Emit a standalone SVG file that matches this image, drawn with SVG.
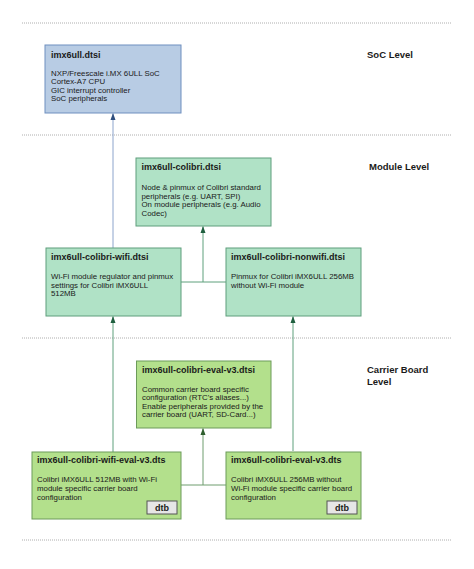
<svg xmlns="http://www.w3.org/2000/svg" width="474" height="569" viewBox="0 0 474 569">
<style>
text{font-family:"Liberation Sans",Arial,sans-serif;fill:#1a1a1a}
.t{font-size:9px;font-weight:bold}
.b{font-size:7.85px}
.lvl{font-size:9.5px;font-weight:bold}
.dtbt{font-size:9px;font-weight:bold}
.soc{fill:#b8cce4;stroke:#6f8fbf;stroke-width:1}
.mod{fill:#b0e2c6;stroke:#5f9e7c;stroke-width:1}
.car{fill:#b3e08c;stroke:#6c9b5a;stroke-width:1}
.dtb{fill:#e6e6e6;stroke:#555;stroke-width:1}
.sep{stroke:#9a9a9a;stroke-width:0.8;stroke-dasharray:1,1;fill:none}
.cb{stroke:#8ca4cc;stroke-width:1;fill:none}
.cg{stroke:#5fa07c;stroke-width:1;fill:none}
.cc{stroke:#6f9d6f;stroke-width:1;fill:none}
</style>
<defs>
<marker id="ab" markerUnits="userSpaceOnUse" markerWidth="7" markerHeight="6" viewBox="0 0 7 6" refX="6.5" refY="3" orient="auto"><path d="M0,0.5 L7,3 L0,5.5 Z" fill="#2f4f7f"/></marker>
<marker id="ag" markerUnits="userSpaceOnUse" markerWidth="7" markerHeight="6" viewBox="0 0 7 6" refX="6.5" refY="3" orient="auto"><path d="M0,0.5 L7,3 L0,5.5 Z" fill="#1f5f3f"/></marker>
<marker id="ac" markerUnits="userSpaceOnUse" markerWidth="7" markerHeight="6" viewBox="0 0 7 6" refX="6.5" refY="3" orient="auto"><path d="M0,0.5 L7,3 L0,5.5 Z" fill="#2f5f2f"/></marker>
</defs>
<rect width="474" height="569" fill="#ffffff"/>
<g id="separators">
<line class="sep" x1="22" y1="23" x2="452" y2="23"/>
<line class="sep" x1="22" y1="135" x2="452" y2="135"/>
<line class="sep" x1="22" y1="338" x2="452" y2="338"/>
<line class="sep" x1="22" y1="540" x2="452" y2="540"/>
</g>
<g id="levels">
<text class="lvl" x="367" y="58">SoC Level</text>
<text class="lvl" x="369" y="170">Module Level</text>
<text class="lvl" x="367" y="373">Carrier Board</text>
<text class="lvl" x="367" y="385">Level</text>
</g>
<g id="connectors">
<line class="cb" x1="113" y1="248" x2="113" y2="113.5" marker-end="url(#ab)"/>
<line class="cg" x1="181" y1="282" x2="226" y2="282"/>
<line class="cg" x1="203" y1="282" x2="203" y2="226.5" marker-end="url(#ag)"/>
<line class="cg" x1="113" y1="452" x2="113" y2="316.5" marker-end="url(#ag)"/>
<line class="cg" x1="293" y1="451" x2="293" y2="316.5" marker-end="url(#ag)"/>
<line class="cc" x1="181" y1="485" x2="226" y2="485"/>
<line class="cc" x1="203" y1="485" x2="203" y2="428.5" marker-end="url(#ac)"/>
</g>
<g id="imx6ull-dtsi">
<rect class="soc" x="45" y="45" width="136" height="68"/>
<text class="t" x="51" y="58">imx6ull.dtsi</text>
<text class="b" x="51" y="76">NXP/Freescale i.MX 6ULL SoC</text>
<text class="b" x="51" y="84.3">Cortex-A7 CPU</text>
<text class="b" x="51" y="92.6">GIC interrupt controller</text>
<text class="b" x="51" y="100.9">SoC peripherals</text>
</g>
<g id="imx6ull-colibri-dtsi">
<rect class="mod" x="136" y="158" width="135" height="68"/>
<text class="t" x="141.5" y="170">imx6ull-colibri.dtsi</text>
<text class="b" x="141.5" y="190">Node &amp; pinmux of Colibri standard</text>
<text class="b" x="141.5" y="198.6">peripherals (e.g. UART, SPI)</text>
<text class="b" x="141.5" y="207.2">On module peripherals (e.g. Audio</text>
<text class="b" x="141.5" y="215.8">Codec)</text>
</g>
<g id="imx6ull-colibri-wifi-dtsi">
<rect class="mod" x="46" y="248" width="135" height="68"/>
<text class="t" x="51" y="260">imx6ull-colibri-wifi.dtsi</text>
<text class="b" x="51" y="279">Wi-Fi module regulator and pinmux</text>
<text class="b" x="51" y="287.7">settings for Colibri iMX6ULL</text>
<text class="b" x="51" y="296.4">512MB</text>
</g>
<g id="imx6ull-colibri-nonwifi-dtsi">
<rect class="mod" x="226" y="248" width="135" height="68"/>
<text class="t" x="231" y="260">imx6ull-colibri-nonwifi.dtsi</text>
<text class="b" x="231" y="279">Pinmux for Colibri iMX6ULL 256MB</text>
<text class="b" x="231" y="287.7">without Wi-Fi module</text>
</g>
<g id="imx6ull-colibri-eval-v3-dtsi">
<rect class="car" x="136.5" y="361" width="134.5" height="67"/>
<text class="t" x="142" y="373">imx6ull-colibri-eval-v3.dtsi</text>
<text class="b" x="142" y="392">Common carrier board specific</text>
<text class="b" x="142" y="400.3">configuration (RTC's aliases...)</text>
<text class="b" x="142" y="408.6">Enable peripherals provided by the</text>
<text class="b" x="142" y="416.9">carrier board (UART, SD-Card...)</text>
</g>
<g id="imx6ull-colibri-wifi-eval-v3-dts">
<rect class="car" x="32" y="452" width="149" height="67"/>
<text class="t" x="37" y="463">imx6ull-colibri-wifi-eval-v3.dts</text>
<text class="b" x="37" y="482">Colibri iMX6ULL 512MB with Wi-Fi</text>
<text class="b" x="37" y="490.8">module specific carrier board</text>
<text class="b" x="37" y="499.6">configuration</text>
<rect class="dtb" x="147" y="501" width="30" height="13"/>
<text class="dtbt" x="162" y="511" text-anchor="middle">dtb</text>
</g>
<g id="imx6ull-colibri-eval-v3-dts">
<rect class="car" x="226" y="452" width="135" height="67"/>
<text class="t" x="231" y="463">imx6ull-colibri-eval-v3.dts</text>
<text class="b" x="231" y="482">Colibri iMX6ULL 256MB without</text>
<text class="b" x="231" y="490.8">Wi-Fi module specific carrier board</text>
<text class="b" x="231" y="499.6">configuration</text>
<rect class="dtb" x="327" y="501" width="30" height="13"/>
<text class="dtbt" x="342" y="511" text-anchor="middle">dtb</text>
</g>
</svg>
